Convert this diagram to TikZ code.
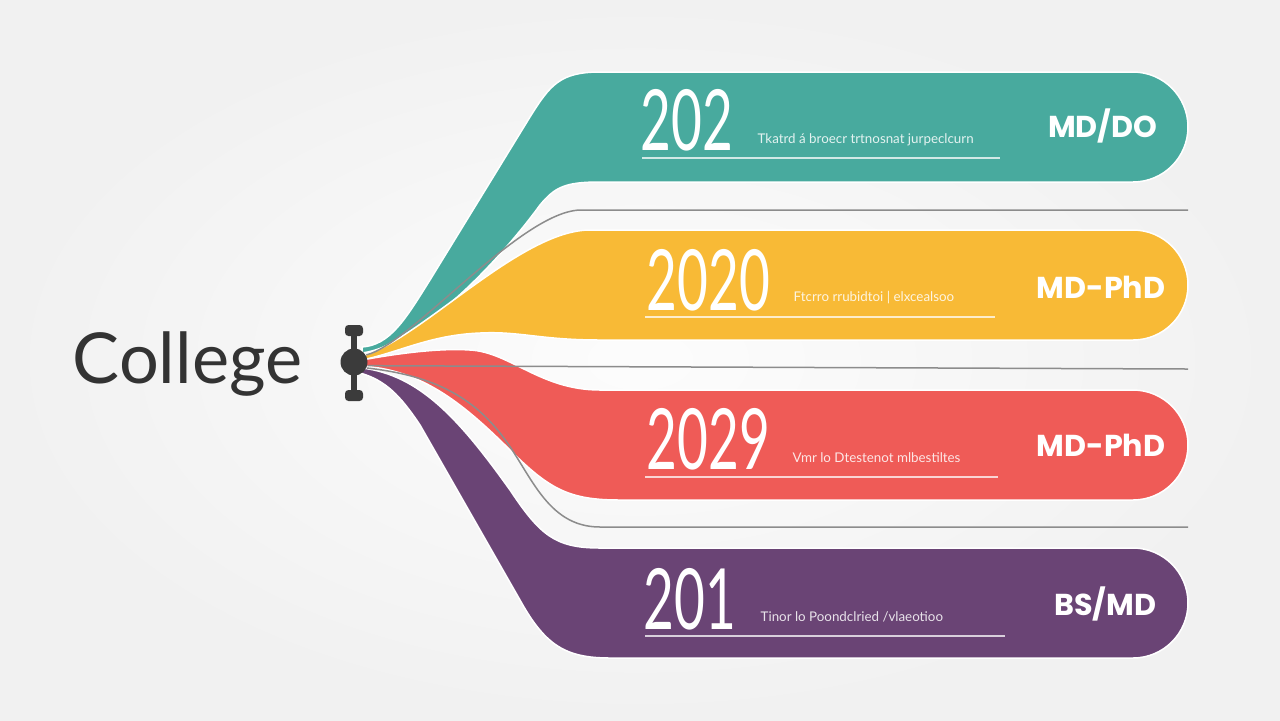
\documentclass[tikz,border=0pt]{standalone}
\usepackage{fontspec}
\setmainfont{Lato}
\newfontfamily\yearfont{Lato}[FakeStretch=0.63]
\newfontfamily\degfont{Poppins}
\usetikzlibrary{positioning}

\definecolor{tealbar}{HTML}{48AA9E}
\definecolor{yellowbar}{HTML}{F8BA36}
\definecolor{redbar}{HTML}{EF5B57}
\definecolor{purplebar}{HTML}{6A4475}
\definecolor{hubgray}{HTML}{3B3B3B}
\definecolor{textgray}{HTML}{333333}
\definecolor{guidegray}{HTML}{8C8C8C}

\begin{document}
\begin{tikzpicture}[x=0.1mm, y=-0.1mm,
	ribbon/.style={draw=white, line width=0.15mm, line join=round},
	guide/.style={draw=guidegray, line width=0.15mm},
	year/.style={text=white, font=\yearfont\fontsize{24}{24}\selectfont, anchor=west, inner sep=0pt},
	note/.style={text=white, opacity=0.85, font=\fontsize{3.8}{4}\selectfont, anchor=west, inner sep=0pt},
	degree/.style={text=white, font=\degfont\bfseries\fontsize{8.6}{9}\selectfont, anchor=east, inner sep=0pt},
	underline/.style={draw=white, opacity=0.75, line width=0.12mm}]

	\shade[inner color=gray!2, outer color=gray!11] (0,0) rectangle (1280,720);
	\useasboundingbox (0,0) rectangle (1280,720);

	% ribbons
	\fill[tealbar, ribbon] (362,347) .. controls (390,345) and (405,320) .. (430,280) -- (530,117)
		.. controls (550,85) and (560,72) .. (600,72) -- (1133,72) arc[start angle=-90, end angle=90, radius=55]
		-- (600,182) .. controls (565,182) and (555,187) .. (540,205) .. controls (500,260) and (420,345) .. (362,353) -- cycle;
	\fill[yellowbar, ribbon] (362,356) .. controls (420,340) and (520,230) .. (590,230) -- (1133,230) arc[start angle=-90, end angle=90, radius=55]
		-- (600,340) .. controls (540,340) and (520,331) .. (480,333) .. controls (430,335) and (400,352) .. (362,360) -- cycle;
	\fill[redbar, ribbon] (362,360) .. controls (400,353) and (440,348) .. (470,350) .. controls (510,352) and (540,390) .. (600,390)
		-- (1133,390) arc[start angle=-90, end angle=90, radius=55]
		-- (620,500) .. controls (570,500) and (550,490) .. (510,450) .. controls (460,400) and (420,370) .. (362,366) -- cycle;
	\fill[purplebar, ribbon] (362,368) .. controls (420,375) and (460,420) .. (510,490) .. controls (540,535) and (555,548) .. (600,548)
		-- (1133,548) arc[start angle=-90, end angle=90, radius=55]
		-- (610,658) .. controls (565,658) and (545,645) .. (520,600) -- (420,425) .. controls (400,395) and (385,380) .. (360,373) -- cycle;

	% hub
	\node[circle, fill=hubgray, minimum size=2.7mm, inner sep=0pt] (hub) at (354,362) {};
	\fill[hubgray] (351,330) rectangle (357,395);
	\fill[hubgray, rounded corners=0.35mm] (345,325) rectangle (363,336);
	\fill[hubgray, rounded corners=0.35mm] (345,390) rectangle (363,401);

	\coordinate (g1) at (1188,210);
	\coordinate (g2) at (1188,369);
	\coordinate (g3) at (1188,527);
	\draw[guide] (hub.30) .. controls (410,345) and (520,212) .. (580,210) -- (g1);
	\draw[guide] (hub.-15) -- (g2);
	\draw[guide] (hub.-25) .. controls (430,375) and (470,395) .. (500,433) .. controls (530,470) and (545,527) .. (600,527) -- (g3);

	\node[font=\fontsize{20}{20}\selectfont, text=textgray, anchor=base west, inner sep=0pt] (college) at (72,383) {College};

	% labels
	\node[year] (y1) at (640,120) {202};
	\node[year] (y2) at (646,280) {2020};
	\node[year] (y3) at (646,439) {2029};
	\node[year] (y4) at (643,599) {201};

	\node[note] (n1) at (757,140) {Tkatrd á broecr trtnosnat jurpeclcurn};
	\node[note] (n2) at (793,298) {Ftcrro rrubidtoi | elxcealsoo};
	\node[note] (n3) at (792,458) {Vmr lo Dtestenot mlbestiltes};
	\node[note] (n4) at (760,617) {Tinor lo Poondclried /vlaeotioo};

	\draw[underline] (642,158) -- (1000,158);
	\draw[underline] (645,317) -- (995,317);
	\draw[underline] (645,477) -- (998,477);
	\draw[underline] (645,636) -- (1005,636);

	\node[degree] (d1) at (1158,126) {MD/DO};
	\node[degree] (d2) at (1166,287) {MD-PhD};
	\node[degree] (d3) at (1166,445) {MD-PhD};
	\node[degree] (d4) at (1157,604) {BS/MD};

\end{tikzpicture}
\end{document}
